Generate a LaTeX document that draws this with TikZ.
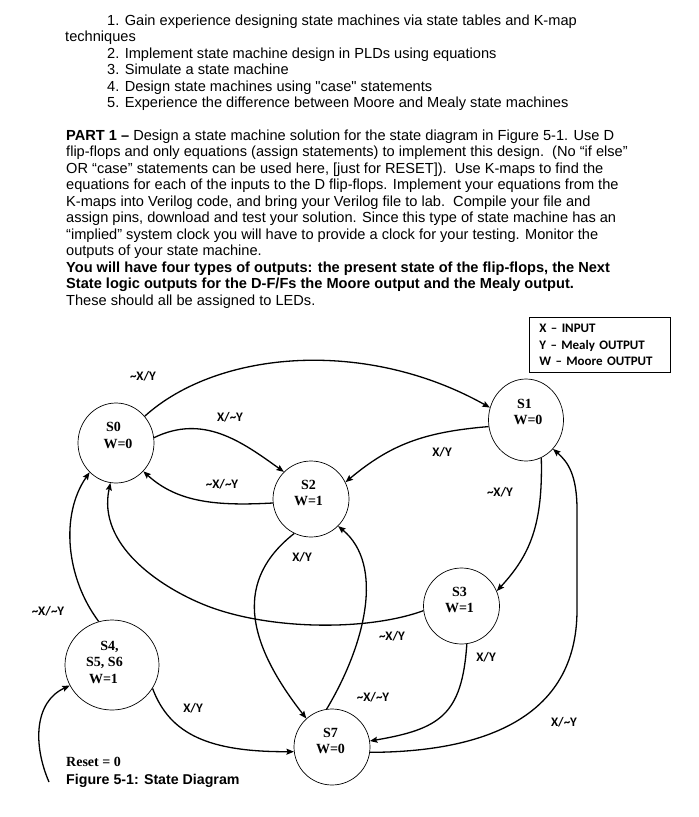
\documentclass[tikz,border=0pt]{standalone}
\usepackage{fontspec}
\setmainfont{Liberation Sans}
\newfontfamily\statefont{Liberation Serif}
\newfontfamily\labelfont{Carlito}
\usetikzlibrary{shapes.geometric, arrows.meta}
\tikzset{
    state/.style={ellipse, draw=black, line width=0.7pt, minimum width=76pt, minimum height=76pt, inner sep=0pt, align=center, text depth=12pt, font=\statefont\bfseries\fontsize{14}{16.6}\selectfont},
    transition/.style={-{Stealth[length=7.5pt, width=6pt, inset=1.2pt]}, line width=1.3pt, draw=black},
    edgelabel/.style={font=\labelfont\bfseries\fontsize{13}{15}\selectfont, inner sep=1pt},
    bodytext/.style={align=left, inner sep=0pt, font=\fontsize{14.6}{16.5}\selectfont},
    legend/.style={draw=black, line width=0.9pt, align=left, text width=121pt, inner xsep=10pt, minimum height=55pt, font=\labelfont\bfseries\fontsize{13}{16.3}\selectfont}
}

\begin{document}
\begin{tikzpicture}[x=1pt, y=-1pt]
\useasboundingbox (0,0) rectangle (699,817);

% =====================================================
% Objectives and task text
% =====================================================

\node[bodytext, anchor=north west] (aims) at (65,14.4)
    {\hspace*{42pt}1. Gain experience designing state machines via state tables and K-map\\
     techniques\\
     \hspace*{42pt}2. Implement state machine design in PLDs using equations\\
     \hspace*{42pt}3. Simulate a state machine\\
     \hspace*{42pt}4. Design state machines using \textquotedbl case\textquotedbl\ statements\\
     \hspace*{42pt}5. Experience the difference between Moore and Mealy state machines};

\node[bodytext, anchor=north west] (task) at (66,129.5)
    {\textbf{PART 1 --} Design a state machine solution for the state diagram in Figure 5-1. Use D\\
     flip-flops and only equations (assign statements) to implement this design.\ \ (No “if else”\\
     OR “case” statements can be used here, [just for RESET]).\ \ Use K-maps to find the\\
     equations for each of the inputs to the D flip-flops. Implement your equations from the\\
     K-maps into Verilog code, and bring your Verilog file to lab.\ \ Compile your file and\\
     assign pins, download and test your solution. Since this type of state machine has an\\
     “implied” system clock you will have to provide a clock for your testing. Monitor the\\
     outputs of your state machine.\\
     \textbf{You will have four types of outputs: the present state of the flip-flops, the Next}\\
     \textbf{State logic outputs for the D-F/Fs the Moore output and the Mealy output.}\\
     These should all be assigned to LEDs.};

% =====================================================
% Legend
% =====================================================

\node[legend, anchor=north west] (key) at (529,317)
    {X \textendash{} INPUT\\Y \textendash{} Mealy OUTPUT\\W \textendash{} Moore OUTPUT};

% =====================================================
% States
% =====================================================

\node[state, minimum height=80pt, text depth=15pt] (s0) at (116,443) {S0\kern5pt\\\kern4pt W=0};
\node[state, minimum width=75pt, minimum height=82pt, text depth=16pt] (s1) at (526,420) {S1\kern3pt\\\kern4pt W=0};
\node[state] (s2) at (311,499) {S2\kern5pt\\W=1\kern5pt};
\node[state] (s3) at (461.5,606) {S3\kern4pt\\W=1\kern4pt};
\node[state, minimum width=94pt, minimum height=90pt, text depth=6pt] (s4) at (112,665) {S4,\kern5pt\\S5, S6\kern15pt\\W=1\kern17pt};
\node[state] (s7) at (332,747) {S7\kern3pt\\W=0\kern3pt};

% =====================================================
% Transitions
% =====================================================

\draw[transition] (s0.43) .. controls (218,350) and (366,338) .. (s1.161);
\draw[transition] (s0.8) .. controls (203,414) and (241,441) .. (s2.135);
\draw[transition] (s2.186) .. controls (218,506) and (178,503) .. (s0.314);
\draw[transition] (s1.190) .. controls (423,432) and (390,445) .. (s2.26);
\draw[transition] (s1.292) .. controls (543,525) and (530,555) .. (s3.23);
\draw[transition] (s7.352) .. controls (480,752) and (577,720) .. (577,610)
    -- (577,510) .. controls (577,475) and (568,462) .. (s1.313);
\draw[transition] (s3.278) .. controls (462,715) and (440,729) .. (s7.9);
\draw[transition] (s3.187) .. controls (365,632) and (262,630) .. (200,603)
    .. controls (160,586) and (97,545) .. (s0.262);
\draw[transition] (s4.107) .. controls (66,578) and (60,515) .. (s0.228);
\draw[transition] (s2.244) .. controls (235,580) and (245,640) .. (s7.132);
\draw[transition] (s7.98) .. controls (365,645) and (385,565) .. (s2.315);
\draw[transition] (s4.330) .. controls (170,735) and (210,752) .. (s7.187);

% reset entry
\coordinate (resetin) at (49,782);
\draw[transition] (resetin) .. controls (33,745) and (34,702) .. (s4.206);

% =====================================================
% Transition labels
% =====================================================

\node[edgelabel] (t01) at (143,376) {\textasciitilde X/Y};
\node[edgelabel] (t02) at (230,417) {X/\textasciitilde Y};
\node[edgelabel] (t03) at (222,484) {\textasciitilde X/\textasciitilde Y};
\node[edgelabel] (t04) at (442,452) {X/Y};
\node[edgelabel] (t05) at (500,492) {\textasciitilde X/Y};
\node[edgelabel] (t06) at (302,557) {X/Y};
\node[edgelabel] (t07) at (48,611) {\textasciitilde X/\textasciitilde Y};
\node[edgelabel] (t08) at (193,708) {X/Y};
\node[edgelabel] (t09) at (392,636) {\textasciitilde X/Y};
\node[edgelabel] (t10) at (486,657) {X/Y};
\node[edgelabel] (t11) at (373,697) {\textasciitilde X/\textasciitilde Y};
\node[edgelabel] (t12) at (564,722) {X/\textasciitilde Y};

% =====================================================
% Caption
% =====================================================

\node[anchor=base west, inner sep=0pt, font=\statefont\bfseries\fontsize{14}{16}\selectfont] (resetnote) at (66,766) {Reset = 0};
\node[anchor=base west, inner sep=0pt, font=\bfseries\fontsize{14.2}{16}\selectfont] (figcaption) at (66,784) {Figure 5-1: State Diagram};

\end{tikzpicture}
\end{document}
